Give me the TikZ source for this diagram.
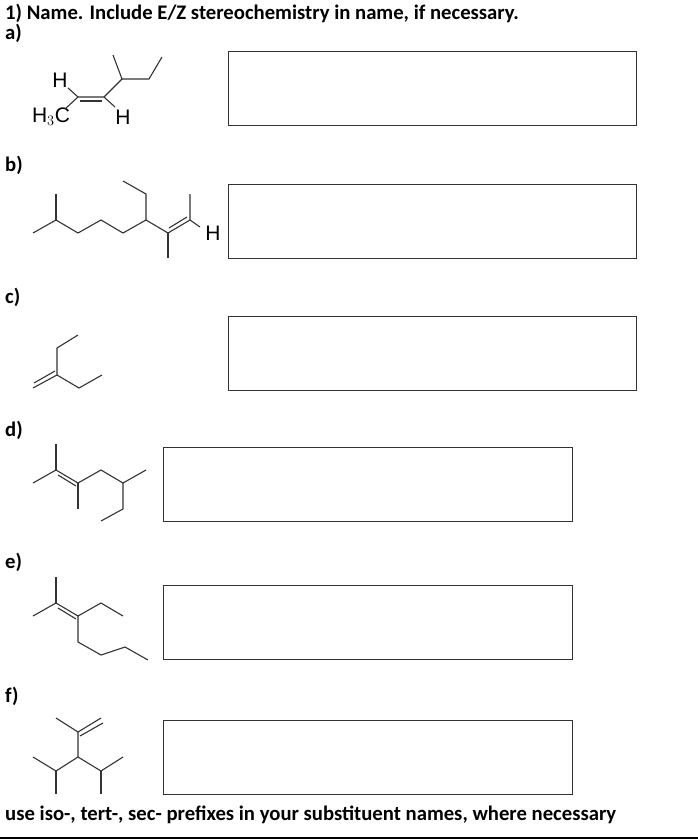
\documentclass[tikz,border=0pt]{standalone}
\usepackage{fontspec}
\setmainfont{Carlito}
\newfontfamily\arial{Liberation Sans}
\begin{document}
\begin{tikzpicture}[x=1pt,y=-1pt,
  bond/.style={line width=1.1pt,draw=black!80},
  ansbox/.style={draw=black!80,line width=1pt},
  lbl/.style={font=\bfseries\fontsize{20.7}{23}\selectfont,anchor=west,inner sep=0},
  atom/.style={font=\arial\fontsize{21}{23}\selectfont,inner sep=0}]
\useasboundingbox (0,0) rectangle (698,840);
\node[lbl] (title) at (5,13) {1) Name. Include E/Z stereochemistry in name, if necessary.};
\node[lbl] (la) at (5,33) {a)};
\node[lbl] (lb) at (5,165) {b)};
\node[lbl] (lc) at (5,297) {c)};
\node[lbl] (ld) at (5,430) {d)};
\node[lbl] (le) at (5,562) {e)};
\node[lbl] (lf) at (5,696) {f)};
\node[lbl] (foot) at (5,815) {use iso-, tert-, sec- prefixes in your substituent names, where necessary};
\draw[line width=1.5pt] (0,838) -- (698,838);
% boxes
\draw[ansbox] (228,52) rectangle (636,126);
\draw[ansbox] (228,184) rectangle (636,258);
\draw[ansbox] (228,316) rectangle (636,390);
\draw[ansbox] (163,447) rectangle (572,521);
\draw[ansbox] (163,585) rectangle (572,659);
\draw[ansbox] (163,720) rectangle (572,794);
% a
\node[atom] (h3c) at (51,117) {H$_3$C};
\node[atom] (ha) at (60,80) {H};
\node[atom] (hb) at (123,117) {H};
\coordinate (a2) at (78,97); \coordinate (a3) at (104,97);
\coordinate (a4) at (122,79); \coordinate (a5) at (113,55);
\coordinate (a6) at (149,79); \coordinate (a7) at (162,57);
\draw[bond] (65,109) -- (a2) -- (a3) -- (a4) -- (a5);
\draw[bond] (a4) -- (a6) -- (a7);
\draw[bond] (80,101) -- (102,101);
\draw[bond] (a2) -- (68,88);
\draw[bond] (a3) -- (115,107);
% b
\coordinate (b1) at (33,233); \coordinate (b2) at (56,220); \coordinate (b3) at (56,194);
\coordinate (b4) at (78,233); \coordinate (b5) at (101,220); \coordinate (b6) at (123,233);
\coordinate (b7) at (146,220); \coordinate (b8) at (146,194); \coordinate (b9) at (123,181);
\coordinate (b10) at (168,233); \coordinate (b11) at (168,258); \coordinate (b12) at (190,220);
\coordinate (b13) at (190,194);
\node[atom] (hc) at (213,233) {H};
\draw[bond] (b1) -- (b2) -- (b4) -- (b5) -- (b6) -- (b7) -- (b10) -- (b12) -- (b13);
\draw[bond] (b2) -- (b3); \draw[bond] (b7) -- (b8) -- (b9); \draw[bond] (b10) -- (b11);
\draw[bond] (169,228) -- (187,217);
\draw[bond] (b12) -- (200,227);
% c
\coordinate (c1) at (78,335); \coordinate (c2) at (57,348); \coordinate (c3) at (57,375);
\coordinate (c4) at (33,388); \coordinate (c5) at (79,388); \coordinate (c6) at (102,375);
\draw[bond] (c1) -- (c2) -- (c3) -- (c4); \draw[bond] (c3) -- (c5) -- (c6);
\draw[bond] (55,371) -- (34,383);
% d
\coordinate (d1) at (33,483); \coordinate (d2) at (56,470); \coordinate (d3) at (56,444);
\coordinate (d4) at (78,483); \coordinate (d5) at (78,509); \coordinate (d6) at (101,470);
\coordinate (d7) at (123,483); \coordinate (d8) at (146,470); \coordinate (d9) at (123,509);
\coordinate (d10) at (101,521);
\draw[bond] (d1) -- (d2) -- (d4) -- (d6) -- (d7) -- (d8); \draw[bond] (d2) -- (d3);
\draw[bond] (d4) -- (d5); \draw[bond] (d7) -- (d9) -- (d10);
\draw[bond] (58,475) -- (76,486);
% e
\coordinate (e1) at (33,616); \coordinate (e2) at (56,603); \coordinate (e3) at (56,577);
\coordinate (e4) at (78,616); \coordinate (e5) at (101,603); \coordinate (e6) at (123,616);
\coordinate (e7) at (78,642); \coordinate (e8) at (101,655); \coordinate (e9) at (125,647);
\coordinate (e10) at (148,660);
\draw[bond] (e1) -- (e2) -- (e4) -- (e5) -- (e6); \draw[bond] (e2) -- (e3);
\draw[bond] (e4) -- (e7) -- (e8) -- (e9) -- (e10);
\draw[bond] (58,608) -- (76,619);
% f
\coordinate (f1) at (56,718); \coordinate (f2) at (78,732); \coordinate (f3) at (101,718);
\coordinate (f4) at (78,757); \coordinate (f5) at (56,771); \coordinate (f6) at (33,757);
\coordinate (f7) at (56,794); \coordinate (f8) at (101,771); \coordinate (f9) at (123,757);
\coordinate (f10) at (101,794);
\draw[bond] (f1) -- (f2) -- (f3); \draw[bond] (f2) -- (f4) -- (f5) -- (f6);
\draw[bond] (f5) -- (f7); \draw[bond] (f4) -- (f8) -- (f9); \draw[bond] (f8) -- (f10);
\draw[bond] (80,736) -- (103,723);
\end{tikzpicture}
\end{document}
